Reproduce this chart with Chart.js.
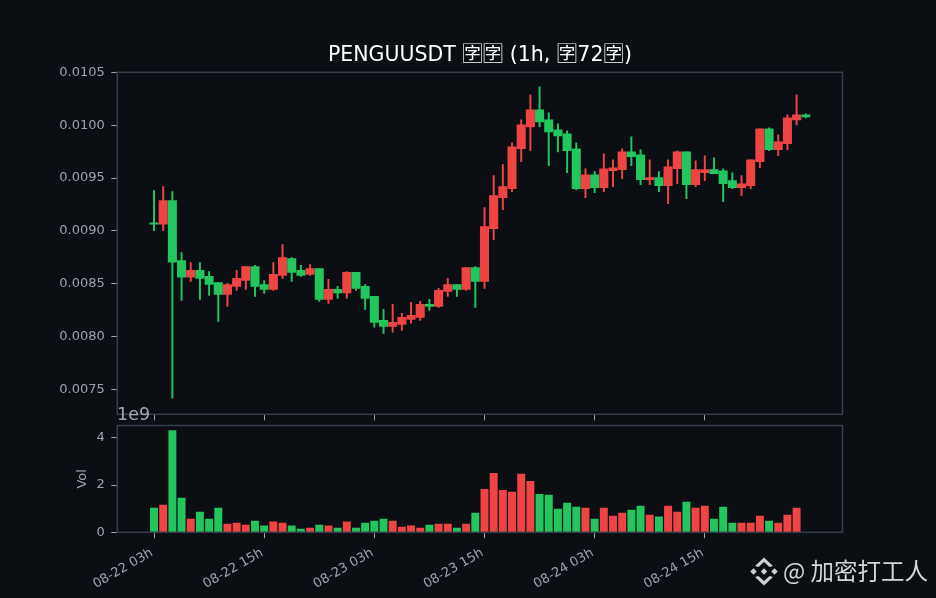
<!DOCTYPE html>
<html><head><meta charset="utf-8">
<script src="https://cdn.jsdelivr.net/npm/chart.js@4"></script>
<style>
html,body{margin:0;padding:0;background:#0b0f14;width:936px;height:598px;overflow:hidden}
#a,#b{position:absolute;left:0}
#a{top:0;width:936px;height:425px}
#b{top:400px;width:936px;height:198px}
</style></head><body>
<div id="a"><canvas id="ca"></canvas></div>
<div id="b"><canvas id="cb"></canvas></div>
<script>
const titleText = 'PENGUUSDT 🈑🈑 (1h, 🈑72🈑)';
const tickIndex = [0,12,24,36,48,60];
const tickLabels = ['08-22 03h','08-22 15h','08-23 03h','08-23 15h','08-24 03h','08-24 15h'];
const priceTicks = [0.0075,0.0080,0.0085,0.0090,0.0095,0.0100,0.0105];
const volTicks = [0,2e9,4e9];
const opens = [.009075,.009063,.009286,.008720,.008563,.008626,.008569,.008512,.008399,.008475,.008531,.008663,.008493,.008446,.008578,.008739,.008626,.008588,.008644,.008352,.008446,.008412,.008607,.008475,.008380,.008154,.008097,.008116,.008163,.008182,.008305,.008286,.008427,.008493,.008446,.008654,.008522,.009022,.009314,.009399,.009777,.009984,.010145,.010050,.009956,.009918,.009777,.009399,.009531,.009409,.009569,.009579,.009748,.009720,.009484,.009503,.009428,.009588,.009748,.009437,.009550,.009579,.009569,.009475,.009409,.009428,.009654,.009965,.009767,.009824,.010050,.010097];
const closes = [.009063,.009286,.008704,.008563,.008626,.008550,.008493,.008399,.008493,.008550,.008663,.008475,.008446,.008588,.008748,.008607,.008578,.008644,.008352,.008446,.008412,.008607,.008456,.008361,.008135,.008097,.008135,.008182,.008201,.008305,.008286,.008437,.008493,.008446,.008654,.008522,.009041,.009333,.009418,.009795,.010003,.010145,.010031,.009937,.009899,.009758,.009399,.009531,.009409,.009588,.009597,.009748,.009701,.009484,.009503,.009428,.009607,.009748,.009437,.009579,.009579,.009541,.009446,.009409,.009446,.009673,.009965,.009767,.009843,.010069,.010097,.010079];
const highs = [.009380,.009418,.009371,.008795,.008701,.008701,.008616,.008512,.008503,.008626,.008663,.008673,.008531,.008701,.008871,.008748,.008673,.008682,.008644,.008541,.008475,.008616,.008607,.008493,.008380,.008258,.008305,.008220,.008324,.008333,.008352,.008456,.008550,.008493,.008654,.008663,.009220,.009522,.009626,.009833,.010050,.010286,.010362,.010116,.010013,.009946,.009833,.009588,.009560,.009729,.009673,.009777,.009890,.009767,.009673,.009560,.009673,.009758,.009748,.009663,.009711,.009692,.009588,.009550,.009522,.009673,.009965,.009975,.009909,.010097,.010286,.010107];
const lows = [.009003,.009003,.007418,.008343,.008522,.008352,.008390,.008144,.008286,.008437,.008446,.008380,.008409,.008437,.008550,.008522,.008569,.008578,.008333,.008314,.008361,.008361,.008437,.008258,.008088,.008031,.008041,.008059,.008126,.008154,.008248,.008277,.008380,.008380,.008437,.008277,.008456,.008918,.009201,.009371,.009654,.009758,.009984,.009616,.009748,.009550,.009390,.009314,.009361,.009371,.009418,.009494,.009616,.009437,.009437,.009371,.009258,.009446,.009305,.009418,.009475,.009541,.009277,.009399,.009333,.009399,.009597,.009758,.009711,.009767,.010003,.010069];
const volumes = [1.02e9,1.15e9,4.31e9,1.45e9,.56e9,.86e9,.56e9,1.02e9,.35e9,.39e9,.31e9,.48e9,.27e9,.44e9,.39e9,.27e9,.14e9,.18e9,.31e9,.27e9,.18e9,.44e9,.18e9,.39e9,.48e9,.56e9,.48e9,.22e9,.27e9,.18e9,.31e9,.35e9,.35e9,.18e9,.35e9,.81e9,1.82e9,2.50e9,1.78e9,1.70e9,2.46e9,2.16e9,1.61e9,1.57e9,.98e9,1.24e9,1.07e9,1.02e9,.56e9,1.02e9,.69e9,.81e9,.94e9,1.11e9,.73e9,.65e9,1.11e9,.86e9,1.28e9,1.02e9,1.11e9,.56e9,1.07e9,.39e9,.39e9,.39e9,.69e9,.48e9,.39e9,.73e9,1.02e9,0];

const GREEN='#22c55e', RED='#ef4444', FRAME='#363d4b', TICK='#9ca3af', TEXT='#9ca3af';
const FONT='"DejaVu Sans"';
const isUp = i => closes[i] >= opens[i];
const colors = opens.map((_,i)=> isUp(i) ? RED : GREEN);
const wickData = opens.map((_,i)=>({x:i,y:[lows[i],highs[i]]}));
const bodyData = opens.map((_,i)=>({x:i,y:[opens[i],closes[i]]}));
const volData = volumes.map((v,i)=>({x:i,y:v}));

const frame = {id:'frame',
  afterLayout(c){ if(c.titleBlock){c.titleBlock.left=c.chartArea.left;c.titleBlock.right=c.chartArea.right;} },
  afterDraw(c){const a=c.chartArea,x=c.ctx;x.save();x.strokeStyle=FRAME;x.lineWidth=1.5;x.strokeRect(a.left,a.top,a.right-a.left,a.bottom-a.top);x.restore();}};

function xScale(showLabels,height){return {
  type:'linear',min:-4,max:75,offset:false,
  afterBuildTicks(s){s.ticks=tickIndex.map(v=>({value:v}));},
  afterFit(s){s.height=height;s.paddingLeft=0;s.paddingRight=0;},
  grid:{offset:false,drawOnChartArea:false,drawTicks:true,tickLength:6,tickColor:TICK,tickWidth:1},
  border:{display:false},
  ticks:{display:showLabels,autoSkip:false,minRotation:30,maxRotation:30,padding:7,labelOffset:-2,color:TEXT,font:{family:FONT,size:13},
    callback(v){const i=tickIndex.indexOf(v);return i>=0?tickLabels[i]:'';}}
};}
function yFit(s){s.width=117.3;s.paddingTop=0;s.paddingBottom=0;}

new Chart(document.getElementById('ca'),{
  type:'bar',
  data:{datasets:[
    {data:bodyData,backgroundColor:colors,barThickness:8.4,grouped:false,borderWidth:0},
    {data:wickData,backgroundColor:colors,barThickness:1.3,grouped:false,borderWidth:0}
  ]},
  plugins:[frame],
  options:{
    responsive:true,maintainAspectRatio:false,animation:false,
    layout:{padding:{left:0,right:93.5,top:0,bottom:0}},
    plugins:{legend:{display:false},tooltip:{enabled:false},
      title:{display:true,text:titleText,color:'#ffffff',font:{family:FONT+',"Noto Sans CJK SC"',size:20.5,weight:'normal'},padding:{top:43.7,bottom:4}}},
    scales:{
      x:xScale(false,10.7),
      y:{min:0.007265,max:0.0105,
        afterBuildTicks(s){s.ticks=priceTicks.map(v=>({value:v}));},
        afterFit:yFit,
        grid:{drawOnChartArea:false,tickLength:6,tickColor:TICK,tickWidth:1},border:{display:false},
        ticks:{color:TEXT,padding:6.5,font:{family:FONT,size:13},callback:v=>v.toFixed(4)}}
    }
  }
});

const overlay = {id:'overlay',afterDraw(c){
  const x=c.ctx;x.save();
  x.fillStyle='#a3a8b0';x.font='17.5px '+FONT;x.textBaseline='alphabetic';x.textAlign='left';
  x.fillText('1e9',117,20);
  x.fillStyle='#d0d0d0';
  const cx=764,cy=171.5;
  const dm=(px,py,r)=>{x.beginPath();x.moveTo(px,py-r);x.lineTo(px+r,py);x.lineTo(px,py+r);x.lineTo(px-r,py);x.closePath();x.fill();};
  dm(cx,cy,3.2);dm(cx-10.5,cy,3.2);dm(cx+10.5,cy,3.2);
  const chev=(s)=>{x.beginPath();x.moveTo(cx,cy+s*14);x.lineTo(cx+9,cy+s*5.5);x.lineTo(cx+5.5,cy+s*4.5);x.lineTo(cx,cy+s*9.5);x.lineTo(cx-5.5,cy+s*4.5);x.lineTo(cx-9,cy+s*5.5);x.closePath();x.fill();};
  chev(-1);chev(1);
  x.fillStyle='#d6d6d6';x.font='23.5px "Noto Sans CJK SC"';x.textBaseline='middle';
  x.fillText('@ 加密打工人',783,171.5);
  x.restore();
}};

new Chart(document.getElementById('cb'),{
  type:'bar',
  data:{datasets:[{data:volData,backgroundColor:colors,barThickness:7.3,borderWidth:0}]},
  plugins:[frame,overlay],
  options:{
    responsive:true,maintainAspectRatio:false,animation:false,
    layout:{padding:{left:0,right:93.5,top:25.5,bottom:0}},
    plugins:{legend:{display:false},tooltip:{enabled:false},title:{display:false}},
    scales:{
      x:xScale(true,65.7),
      y:{min:0,max:4.52e9,
        afterBuildTicks(s){s.ticks=volTicks.map(v=>({value:v}));},
        afterFit:yFit,
        grid:{drawOnChartArea:false,tickLength:6,tickColor:TICK,tickWidth:1},border:{display:false},
        title:{display:true,text:'Vol',color:TEXT,font:{family:FONT,size:13},padding:{top:75,bottom:0}},
        ticks:{color:TEXT,padding:6.5,font:{family:FONT,size:13},callback:v=>String(v/1e9)}}
    }
  }
});
</script></body></html>
